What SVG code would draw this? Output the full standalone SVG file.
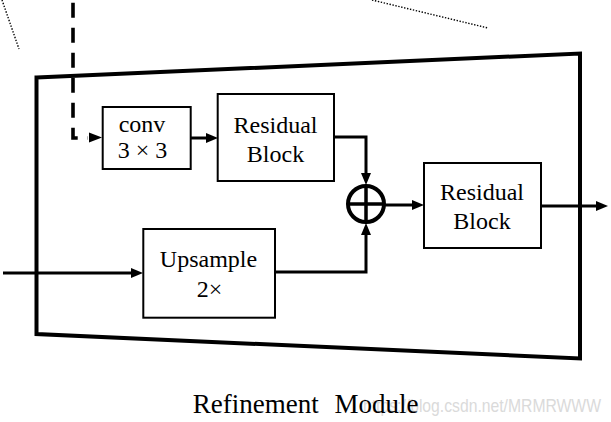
<svg xmlns="http://www.w3.org/2000/svg" width="611" height="422" viewBox="0 0 611 422">
  <style>
    .box { fill: #fff; stroke: #000; stroke-width: 2; }
    .lbl { font-family: "Liberation Serif", "Times New Roman", serif; font-size: 24px; fill: #000; text-anchor: middle; }
    .conn { fill: none; stroke: #000; stroke-width: 3; }
    .dot { fill: none; stroke: #000; stroke-width: 1.4; stroke-dasharray: 1.4 1.6; }
  </style>
  <defs>
    <marker id="arr" viewBox="0 0 12 10" refX="0" refY="5" markerWidth="12" markerHeight="10" markerUnits="userSpaceOnUse" orient="auto">
      <path d="M0,0 L12,5 L0,10 z" fill="#000"/>
    </marker>
  </defs>

  <rect width="611" height="422" fill="#fff"/>

  <!-- dotted guide lines -->
  <line class="dot" x1="2" y1="0" x2="19" y2="49"/>
  <line class="dot" x1="372" y1="0" x2="488" y2="28"/>

  <!-- module outline -->
  <g id="module">
    <polygon points="36.5,77.5 580,53.5 580,358.5 36.5,334" fill="none" stroke="#000" stroke-width="4" stroke-linejoin="miter"/>
  </g>

  <!-- connectors -->
  <g id="connectors">
    <path d="M73,2.7 V138 H88" fill="none" stroke="#000" stroke-width="3.6" stroke-dasharray="15 10"/>
    <polygon points="89,132.5 102,137.5 89,142.5" fill="#000"/>
    <path class="conn" d="M3,273 H131" marker-end="url(#arr)"/>
    <path class="conn" d="M191,138 H206" marker-end="url(#arr)"/>
    <path class="conn" d="M334,137 H366 V173" marker-end="url(#arr)"/>
    <path class="conn" d="M275,272 H366 V235" marker-end="url(#arr)"/>
    <path class="conn" d="M384,205 H412" marker-end="url(#arr)"/>
    <path class="conn" d="M541,206 H596" marker-end="url(#arr)"/>
  </g>

  <g id="conv">
    <rect class="box" x="102.7" y="107" width="88" height="62"/>
    <text class="lbl" x="142" y="131.5">conv</text>
    <text class="lbl" x="142.5" y="158">3 × 3</text>
  </g>

  <g id="residual1">
    <rect class="box" x="217.7" y="94" width="116.3" height="87"/>
    <text class="lbl" x="275.5" y="133">Residual</text>
    <text class="lbl" x="275.5" y="162">Block</text>
  </g>

  <g id="add">
    <circle cx="366" cy="204" r="18" fill="#fff" stroke="#000" stroke-width="4"/>
    <line x1="348" y1="204" x2="384" y2="204" stroke="#000" stroke-width="3.5"/>
    <line x1="366" y1="186" x2="366" y2="222" stroke="#000" stroke-width="3.5"/>
  </g>

  <g id="residual2">
    <rect class="box" x="424" y="163" width="117" height="85"/>
    <text class="lbl" x="482" y="200">Residual</text>
    <text class="lbl" x="482" y="229">Block</text>
  </g>

  <g id="upsample">
    <rect class="box" x="143.3" y="229" width="131.7" height="88.7"/>
    <text class="lbl" x="208.5" y="266.7">Upsample</text>
    <text class="lbl" x="209.5" y="296.7">2×</text>
  </g>

  <!-- watermark -->
  <text x="363" y="412" font-family="'Liberation Sans', Arial, sans-serif" font-size="19" fill="#dadada" textLength="238" lengthAdjust="spacingAndGlyphs">https://blog.csdn.net/MRMRWWW</text>

  <g id="title">
    <text x="192.7" y="413" font-family="'Liberation Serif', 'Times New Roman', serif" font-size="27" word-spacing="9" fill="#000">Refinement Module</text>
  </g>
</svg>
